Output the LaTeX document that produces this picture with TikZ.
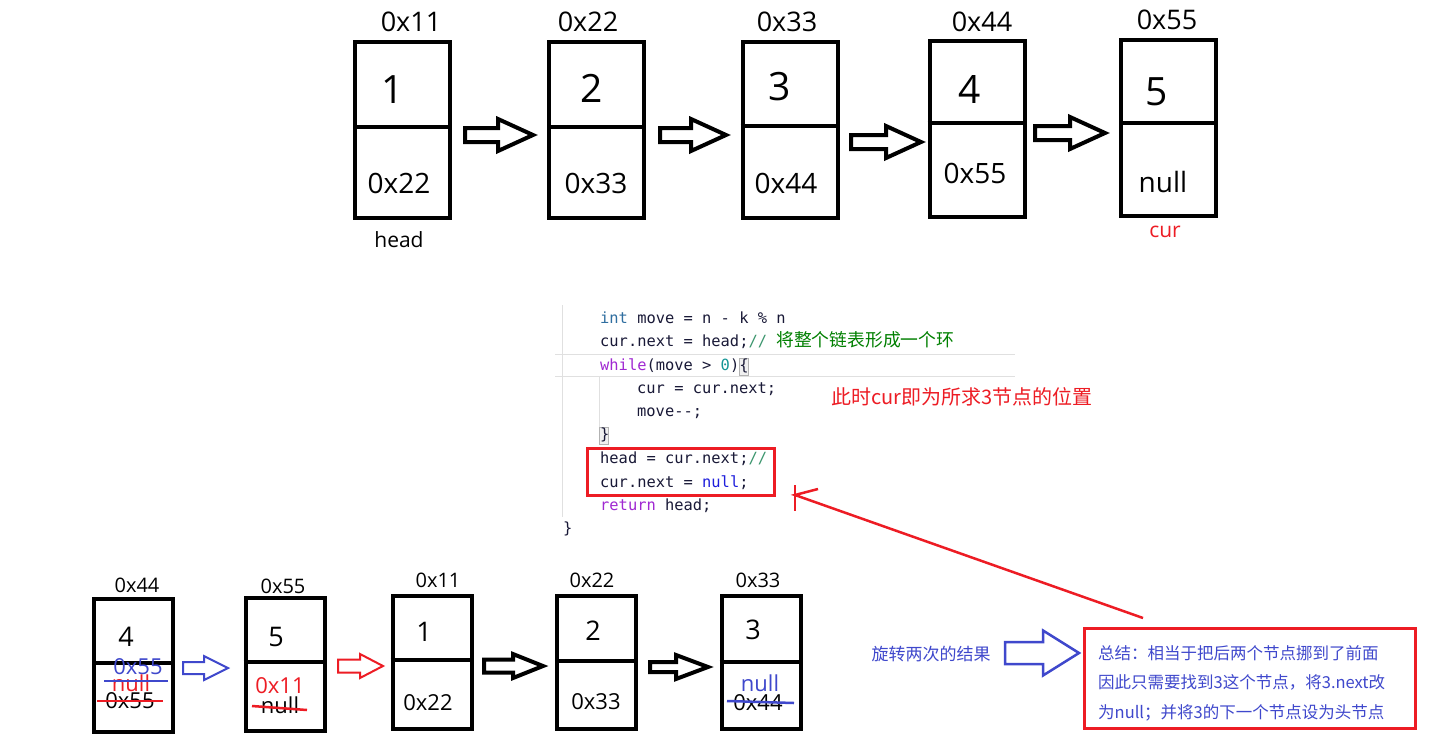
\documentclass[tikz,border=0pt]{standalone}
\usepackage{fontspec}
\setmainfont{Open Sans}
\newfontfamily\cjk{Noto Sans CJK SC}
\newfontfamily\codefont{DejaVu Sans Mono}
\usetikzlibrary{calc}

\definecolor{paintred}{RGB}{237,28,36}
\definecolor{paintblue}{RGB}{63,72,204}
\definecolor{kwblue}{RGB}{47,110,160}
\definecolor{ident}{RGB}{25,25,55}
\definecolor{kwpurple}{RGB}{160,40,210}
\definecolor{numteal}{RGB}{20,150,150}
\definecolor{cmtgreen}{RGB}{0,128,0}
\definecolor{slashgreen}{RGB}{60,150,110}
\definecolor{nullblue}{RGB}{30,30,220}
\definecolor{guide}{RGB}{224,224,224}

% hollow block arrow: start x, tip x, y, shaft half, head half, head length
\newcommand{\hollowarrow}[7][]{%
 \draw[line join=miter, #1] (#2,#4-#5) -- (#3-#7,#4-#5) -- (#3-#7,#4-#6) -- (#3,#4)
   -- (#3-#7,#4+#6) -- (#3-#7,#4+#5) -- (#2,#4+#5) -- cycle;}

\tikzset{
 cell/.style={draw, line width=4pt, minimum width=95pt, minimum height=176pt, inner sep=0},
 cellsm/.style={draw, line width=4pt, minimum width=79pt, minimum height=133pt, inner sep=0},
 addr/.style={inner sep=0, font=\fontsize{27}{30}\selectfont},
 val/.style={inner sep=0, font=\fontsize{39}{42}\selectfont},
 ptr/.style={inner sep=0, font=\fontsize{28}{30}\selectfont},
 tag/.style={inner sep=0, font=\fontsize{21}{24}\selectfont},
 addrsm/.style={inner sep=0, font=\fontsize{20}{22}\selectfont},
 valsm/.style={inner sep=0, font=\fontsize{27}{30}\selectfont},
 ptrsm/.style={inner sep=0, font=\fontsize{22}{24}\selectfont},
 codeline/.style={anchor=base west, inner sep=0, text=ident, font=\codefont\fontsize{15.4}{18}\selectfont},
 note/.style={inner sep=0, font=\cjk\fontsize{20}{24}\selectfont}
}

\begin{document}
\begin{tikzpicture}[x=1pt, y=-1pt]
\fill[white] (0,0) rectangle (1435,750);
\useasboundingbox (0,0) rectangle (1435,750);

% list before the rotation
\foreach \n/\cx/\cy/\dv in {1/402.5/130/127, 2/596.5/130/127, 3/790/129.5/126, 4/977/129/123, 5/1168.5/127.5/123}{
 \node[cell] (t\n) at (\cx,\cy) {};
 \draw[line width=4pt] (t\n.west |- 0,\dv) -- (t\n.east |- 0,\dv);
}
\node[addr] (ta1) at (411,22) {0x11};
\node[addr] (ta2) at (588,22) {0x22};
\node[addr] (ta3) at (787,22) {0x33};
\node[addr] (ta4) at (982,22) {0x44};
\node[addr] (ta5) at (1167,20) {0x55};
\node[val] (tv1) at (393,90) {1};
\node[val] (tv2) at (592,88) {2};
\node[val] (tv3) at (780,87) {3};
\node[val] (tv4) at (970,90) {4};
\node[val] (tv5) at (1157,92) {5};
\node[ptr] (tp1) at (399,183) {0x22};
\node[ptr] (tp2) at (596,183) {0x33};
\node[ptr] (tp3) at (786,183) {0x44};
\node[ptr] (tp4) at (975,173) {0x55};
\node[ptr] (tp5) at (1163,182) {null};
\node[tag] (head) at (399,240) {head};
\node[tag, text=paintred] (cur) at (1165,232) {cur};
\foreach \xs/\xt/\ya in {465/533/135, 660/726/135, 851/921/142, 1035/1105/133}
 \hollowarrow[line width=4pt]{\xs}{\xt}{\ya}{7}{16}{35};

% code
\draw[guide] (555,354) -- (1015,354);
\draw[guide] (555,376) -- (1015,376);
\draw[guide] (562,305) -- (562,517);
\draw[guide] (599.5,377) -- (599.5,428);
\draw[gray!60, fill=gray!12] (739.5,358) rectangle (748.5,375);
\draw[gray!60, fill=gray!12] (599.5,427) rectangle (608.5,444);
\node[codeline] (c1) at (600,323) {\textcolor{kwblue}{int} move = n - k \% n};
\node[codeline] (c2) at (600,346) {cur.next = head;\textcolor{slashgreen}{//} \textcolor{cmtgreen}{\cjk\fontsize{17.8}{20}\selectfont 将整个链表形成一个环}};
\node[codeline] (c3) at (600,370) {\textcolor{kwpurple}{while}(move > \textcolor{numteal}{0})\{};
\node[codeline] (c4) at (637,393) {cur = cur.next;};
\node[codeline] (c5) at (637,416) {move-{}-;};
\node[codeline] (c6) at (600,439) {\}};
\node[codeline] (c7) at (600,463) {head = cur.next;\textcolor{slashgreen}{//}};
\node[codeline] (c8) at (600,487) {cur.next = \textcolor{nullblue}{null};};
\node[codeline] (c9) at (600,510) {\textcolor{kwpurple}{return} head;};
\node[codeline] (c10) at (563,533) {\}};
\node[draw=paintred, line width=3pt, minimum width=187pt, minimum height=47pt, inner sep=0] (redbox) at (681,472) {};
\node[note, text=paintred] (anno) at (962,397) {此时cur即为所求3节点的位置};

% list after rotating twice
\foreach \n/\cx/\cy/\dv in {1/133.5/665.5/663, 2/285/664.5/662, 3/432/662.5/660, 4/596.5/662.5/661, 5/761/662/662}{
 \node[cellsm] (b\n) at (\cx,\cy) {};
 \draw[line width=4pt] (b\n.west |- 0,\dv) -- (b\n.east |- 0,\dv);
}
\node[addrsm] (ba1) at (137,585) {0x44};
\node[addrsm] (ba2) at (283,586) {0x55};
\node[addrsm] (ba3) at (438,580) {0x11};
\node[addrsm] (ba4) at (592,580) {0x22};
\node[addrsm] (ba5) at (758,580) {0x33};
\node[valsm] (bv1) at (126,637) {4};
\node[valsm] (bv2) at (276,637) {5};
\node[valsm] (bv3) at (424,632) {1};
\node[valsm] (bv4) at (593,631) {2};
\node[valsm] (bv5) at (753,630) {3};
\node[ptrsm, text=paintblue] (bn1) at (138,667) {0x55};
\node[ptrsm, text=paintred] (bo1) at (131,683) {null};
\node[ptrsm] (bp1) at (130,701) {0x55};
\node[ptrsm, text=paintred] (bn2) at (280,686) {0x11};
\node[ptrsm] (bp2) at (280,705) {null};
\node[ptrsm] (bp3) at (428,703) {0x22};
\node[ptrsm] (bp4) at (596,702) {0x33};
\node[ptrsm, text=paintblue] (bn5) at (760,683) {null};
\node[ptrsm] (bp5) at (758,703) {0x44};
\draw[paintblue, line width=2.5pt] (104,681) -- (168,681);
\draw[paintred, line width=2.5pt] (97,701) -- (163,701);
\draw[paintred, line width=2.5pt] (252,706) -- (307,710);
\draw[paintblue, line width=2.5pt] (727,701) -- (794,703);
\hollowarrow[paintblue, line width=2pt]{183}{228}{668}{6}{12}{24}
\hollowarrow[paintred, line width=2pt]{338}{383}{666}{6.5}{12}{23}
\hollowarrow[line width=4pt]{484}{543}{666}{6.5}{12}{30}
\hollowarrow[line width=4pt]{650}{708}{667}{5}{12}{32}

% summary
\node[note, text=paintblue, font=\cjk\fontsize{17}{20}\selectfont] (rot) at (931,654) {旋转两次的结果};
\hollowarrow[paintblue, line width=2.5pt]{1005}{1079}{653}{11}{22.5}{36}
\node[draw=paintred, line width=3pt, minimum width=331pt, minimum height=100pt, inner sep=0] (sumbox) at (1250,678.5) {};
\node[anchor=north west, align=left, inner sep=0, text=paintblue, font=\cjk\fontsize{16.5}{29.5}\selectfont] (sumtext) at (1098,645)
 {总结：相当于把后两个节点挪到了前面\\因此只需要找到3这个节点，将3.next改\\为null；并将3的下一个节点设为头节点};
\coordinate (tail) at (1143,618);
\coordinate (tip) at (795,495);
\draw[paintred, line width=2.5pt] (tail) -- (tip) -- ++(23,-6);
\draw[paintred, line width=2.5pt] (tip) ++(0,-10) -- ++(0,26);
\end{tikzpicture}
\end{document}
